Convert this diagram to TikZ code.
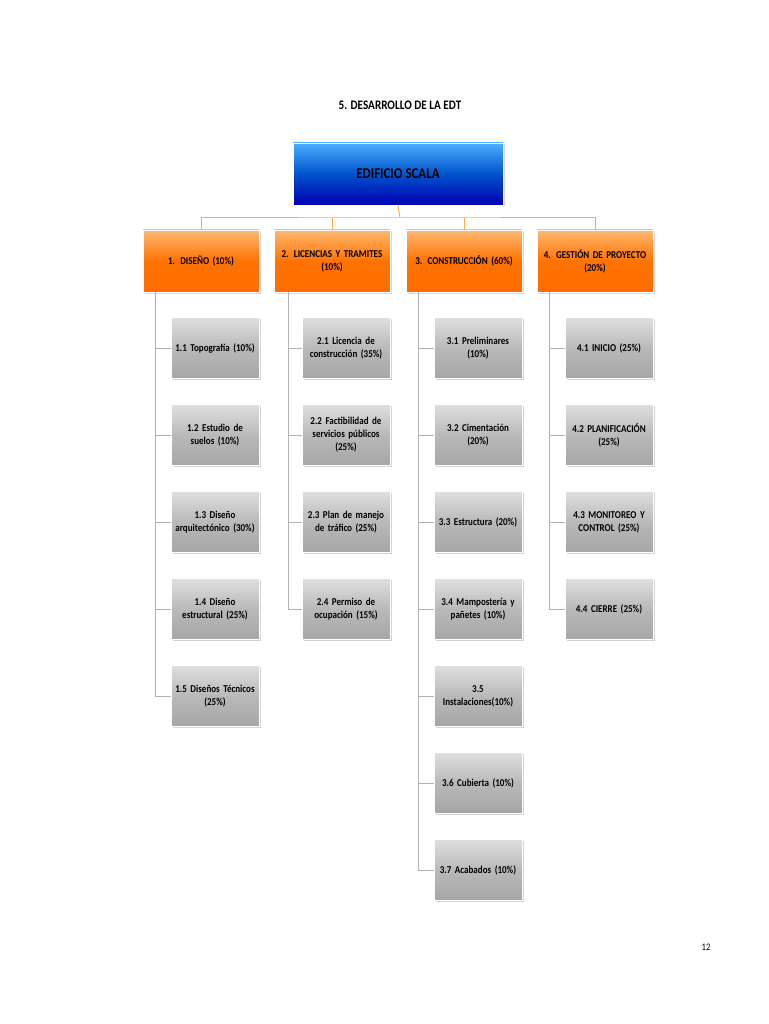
\documentclass[tikz,border=0pt]{standalone}
\usepackage{fontspec}
\setmainfont{Carlito}[FakeStretch=0.86]
\usetikzlibrary{shadows}
\begin{document}
\begin{tikzpicture}[x=1pt,y=-1pt,
  root/.style={draw=white,line width=0.6pt,minimum width=210pt,minimum height=62pt,top color=blue!45!cyan!70!white,bottom color=blue!70!black,middle color=blue!60!cyan!80!black,drop shadow={opacity=0.3,shadow xshift=1.5pt,shadow yshift=-1.5pt},font=\bfseries\fontsize{15}{17}\selectfont,text=black},
  lvl/.style={draw=white,line width=0.6pt,minimum width=116pt,minimum height=62pt,text width=112pt,align=center,top color=orange!55!white,bottom color=orange!85!red,middle color=orange!90!red,drop shadow={opacity=0.3,shadow xshift=1.5pt,shadow yshift=-1.5pt},font=\bfseries\fontsize{10.5}{13}\selectfont,inner sep=1pt},
  leaf/.style={draw=white,line width=0.6pt,minimum width=86pt,minimum height=61pt,text width=88pt,align=center,top color=gray!25,bottom color=gray!70,middle color=gray!55,drop shadow={opacity=0.35,shadow xshift=1.5pt,shadow yshift=-1.5pt},font=\bfseries\fontsize{10.5}{13}\selectfont,inner sep=0pt},
  oline/.style={draw=orange!70!white,line width=1pt},
  gline/.style={draw=gray!60,line width=0.8pt}]
\useasboundingbox (0,0) rectangle (768,1024);
\node[font=\bfseries\fontsize{13}{15}\selectfont] (title) at (400,105) {5. DESARROLLO DE LA EDT};
\node[root] (r) at (398,174) {EDIFICIO SCALA};
\node[lvl] (a) at (201,261) {1. DISEÑO (10\%)};
\node[lvl] (b) at (332,261) {2. LICENCIAS Y TRAMITES\\(10\%)};
\node[lvl] (c) at (464,261) {3. CONSTRUCCIÓN (60\%)};
\node[lvl] (d) at (595,261) {4. GESTIÓN DE PROYECTO\\(20\%)};
\coordinate (j) at (400,218);
\draw[oline] (r.south) -- (j);
\draw[oline] (a.north) |- (j) -| (d.north);
\draw[oline] (b.north) -- (b.north |- j);
\draw[oline] (c.north) -- (c.north |- j);
% leaves
\foreach \n/\x/\y/\t in {
 a1/215/348/{1.1 Topografía (10\%)},
 a2/215/435/{1.2 Estudio de\\suelos (10\%)},
 a3/215/522/{1.3 Diseño\\arquitectónico (30\%)},
 a4/215/609/{1.4 Diseño\\estructural (25\%)},
 a5/215/696/{1.5 Diseños Técnicos\\(25\%)},
 b1/346/348/{2.1 Licencia de\\construcción (35\%)},
 b2/346/435/{2.2 Factibilidad de\\servicios públicos\\(25\%)},
 b3/346/522/{2.3 Plan de manejo\\de tráfico (25\%)},
 b4/346/609/{2.4 Permiso de\\ocupación (15\%)},
 c1/478/348/{3.1 Preliminares\\(10\%)},
 c2/478/435/{3.2 Cimentación\\(20\%)},
 c3/478/522/{3.3 Estructura (20\%)},
 c4/478/609/{3.4 Mampostería y\\pañetes (10\%)},
 c5/478/696/{3.5\\Instalaciones(10\%)},
 c6/478/783/{3.6 Cubierta (10\%)},
 c7/478/870/{3.7 Acabados (10\%)},
 d1/609/348/{4.1 INICIO (25\%)},
 d2/609/435/{4.2 PLANIFICACIÓN\\(25\%)},
 d3/609/522/{4.3 MONITOREO Y\\CONTROL (25\%)},
 d4/609/609/{4.4 CIERRE (25\%)}}
 {\node[leaf] (\n) at (\x,\y) {\t};}
\foreach \p/\x/\k in {a/155/5,b/288/4,c/418/7,d/549/4}{
  \foreach \i in {1,...,\k}{
    \draw[gline] (\p.south -| \x,0) |- (\p\i.west);
  }
}
\node[font=\fontsize{10}{12}\selectfont] (pg) at (706,947) {12};
\end{tikzpicture}
\end{document}
